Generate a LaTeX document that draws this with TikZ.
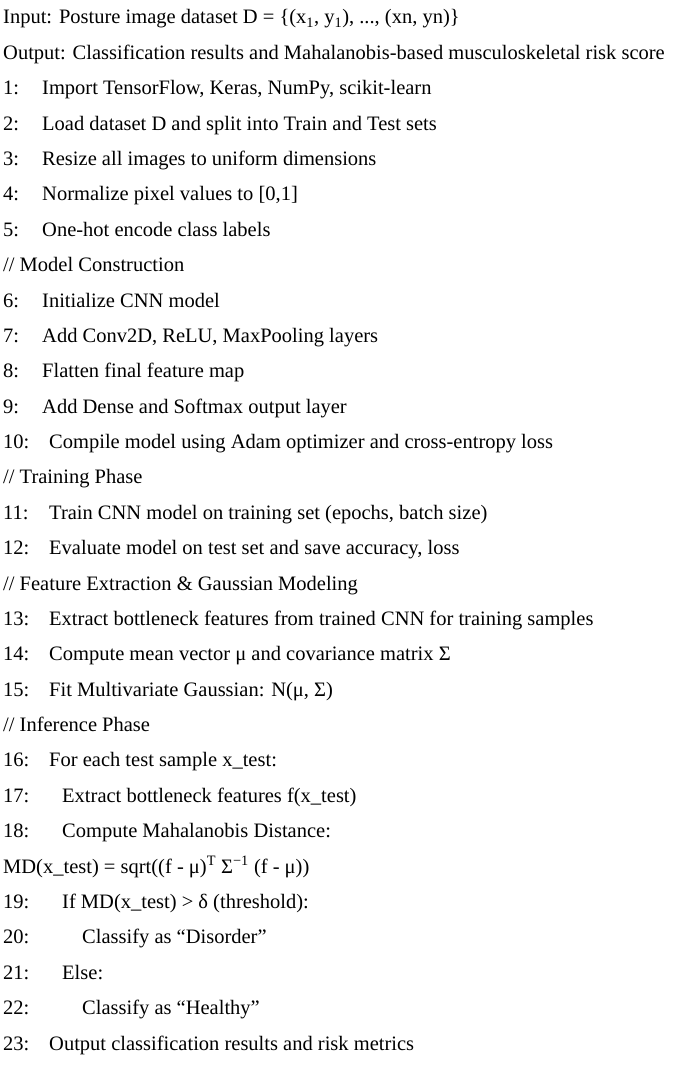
\documentclass[tikz,border=0pt]{standalone}
\usepackage{fontspec}
\setmainfont{Liberation Serif}
\begin{document}
\begin{tikzpicture}[x=1pt,y=-1pt,every node/.style={inner sep=0pt,anchor=base west,font=\fontsize{20.5}{22}\selectfont}]
\useasboundingbox (0,0) rectangle (685,1083);
\newcommand\Ln[4]{\node (a#1) at (3,{24+35.38*#1}) {#2}; \node (b#1) at (#3,{24+35.38*#1}) {#4};}
\Ln{0}{}{3}{Input: Posture image dataset D = \{(x\textsubscript{1}, y\textsubscript{1}), ..., (xn, yn)\}}
\Ln{1}{}{3}{Output: Classification results and Mahalanobis-based musculoskeletal risk score}
\Ln{2}{1:}{42}{Import TensorFlow, Keras, NumPy, scikit-learn}
\Ln{3}{2:}{42}{Load dataset D and split into Train and Test sets}
\Ln{4}{3:}{42}{Resize all images to uniform dimensions}
\Ln{5}{4:}{42}{Normalize pixel values to [0,1]}
\Ln{6}{5:}{42}{One-hot encode class labels}
\Ln{7}{}{3}{// Model Construction}
\Ln{8}{6:}{42}{Initialize CNN model}
\Ln{9}{7:}{42}{Add Conv2D, ReLU, MaxPooling layers}
\Ln{10}{8:}{42}{Flatten final feature map}
\Ln{11}{9:}{42}{Add Dense and Softmax output layer}
\Ln{12}{10:}{49}{Compile model using Adam optimizer and cross-entropy loss}
\Ln{13}{}{3}{// Training Phase}
\Ln{14}{11:}{49}{Train CNN model on training set (epochs, batch size)}
\Ln{15}{12:}{49}{Evaluate model on test set and save accuracy, loss}
\Ln{16}{}{3}{// Feature Extraction \& Gaussian Modeling}
\Ln{17}{13:}{49}{Extract bottleneck features from trained CNN for training samples}
\Ln{18}{14:}{49}{Compute mean vector μ and covariance matrix Σ}
\Ln{19}{15:}{49}{Fit Multivariate Gaussian: N(μ, Σ)}
\Ln{20}{}{3}{// Inference Phase}
\Ln{21}{16:}{49}{For each test sample x\_test:}
\Ln{22}{17:}{62}{Extract bottleneck features f(x\_test)}
\Ln{23}{18:}{62}{Compute Mahalanobis Distance:}
\Ln{24}{}{3}{MD(x\_test) = sqrt((f - μ)\textsuperscript{T} Σ\textsuperscript{−1} (f - μ))}
\Ln{25}{19:}{62}{If MD(x\_test) > δ (threshold):}
\Ln{26}{20:}{82}{Classify as “Disorder”}
\Ln{27}{21:}{62}{Else:}
\Ln{28}{22:}{82}{Classify as “Healthy”}
\Ln{29}{23:}{49}{Output classification results and risk metrics}
\end{tikzpicture}
\end{document}
